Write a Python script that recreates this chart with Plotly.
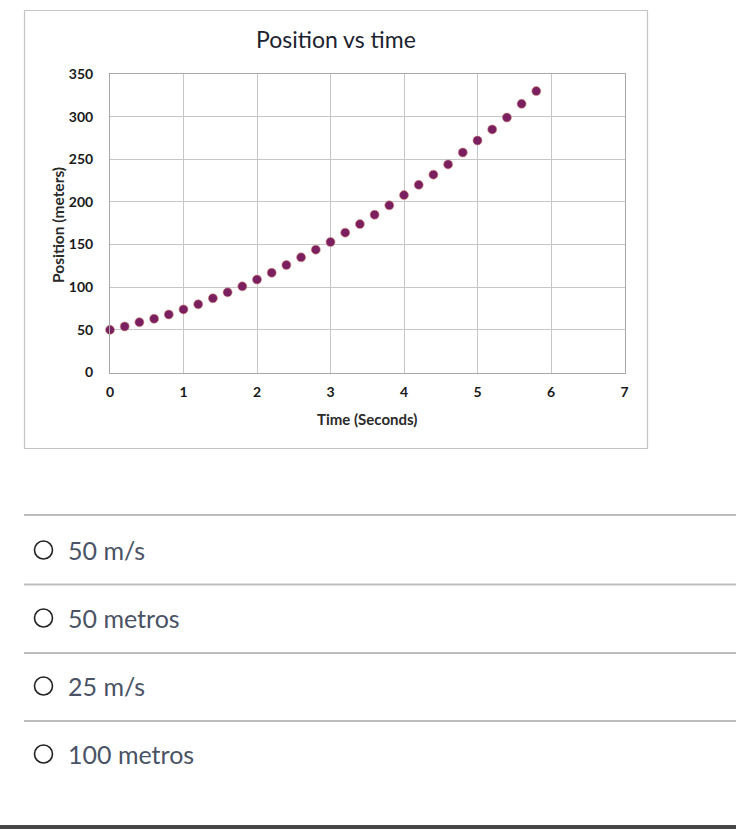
import plotly.graph_objects as go

# Data
time_s = [0.0, 0.2, 0.4, 0.6, 0.8, 1.0, 1.2, 1.4, 1.6, 1.8,
          2.0, 2.2, 2.4, 2.6, 2.8, 3.0, 3.2, 3.4, 3.6, 3.8,
          4.0, 4.2, 4.4, 4.6, 4.8, 5.0, 5.2, 5.4, 5.6, 5.8]
position_m = [50, 54, 59, 63, 68, 74, 80, 87, 94, 101,
              109, 117, 126, 135, 144, 153, 164, 174, 185, 196,
              208, 220, 232, 244, 258, 272, 285, 299, 315, 330]
x_ticks = [0, 1, 2, 3, 4, 5, 6, 7]
y_ticks = [0, 50, 100, 150, 200, 250, 300, 350]
options = ["50 m/s", "50 metros", "25 m/s", "100 metros"]

W, H = 736, 834


def px(x):
    return x / W


def py(y):
    return (H - y) / H


fig = go.Figure()
fig.add_trace(go.Scatter(
    x=time_s, y=position_m, mode="markers",
    marker=dict(size=9, color="#7a1f5f", line=dict(color="#d08a7a", width=0.6)),
    showlegend=False, hoverinfo="skip", cliponaxis=False,
))

grid_c = "#c6c6c6"
fig.update_layout(
    template="none",
    width=W, height=H, autosize=False,
    margin=dict(l=0, r=0, t=0, b=0, pad=0, autoexpand=False),
    paper_bgcolor="white", plot_bgcolor="white",
    xaxis=dict(
        domain=[px(110), px(624.5)], range=[0, 7], tickvals=x_ticks,
        automargin=False,
        showgrid=True, gridcolor=grid_c, gridwidth=1,
        showline=True, linecolor="#a8a8a8", linewidth=1, mirror=True,
        zeroline=False, ticks="", ticklabelstandoff=7,
        tickfont=dict(family="Lato", size=14, color="#1a1a1a", weight="bold"),
    ),
    yaxis=dict(
        domain=[py(372.5), py(74)], range=[0, 350], tickvals=y_ticks,
        automargin=False,
        showgrid=True, gridcolor=grid_c, gridwidth=1,
        showline=True, linecolor="#a8a8a8", linewidth=1, mirror=True,
        zeroline=False, ticks="", ticklabelstandoff=13,
        tickfont=dict(family="Lato", size=14, color="#1a1a1a", weight="bold"),
    ),
)

shapes = []
# chart frame
shapes.append(dict(type="rect", xref="paper", yref="paper",
                   x0=px(24.5), x1=px(647.5), y0=py(448.5), y1=py(10.5),
                   line=dict(color="#c4c4c4", width=1.2), layer="below"))
# separators between options
for yy in [515, 584.5, 653, 721]:
    shapes.append(dict(type="line", xref="paper", yref="paper",
                       x0=px(24), x1=1, y0=py(yy), y1=py(yy),
                       line=dict(color="#bdbdbd", width=2)))
# bottom dark rule
shapes.append(dict(type="line", xref="paper", yref="paper",
                   x0=0, x1=1, y0=py(827), y1=py(827),
                   line=dict(color="#474747", width=4)))

annotations = [
    dict(text="Position vs time", xref="paper", yref="paper",
         x=px(335.5), y=py(39), xanchor="center", yanchor="middle",
         showarrow=False, font=dict(family="Lato", size=23, color="#1c2330")),
    dict(text="Time (Seconds)", xref="paper", yref="paper",
         x=px(366.5), y=py(419), xanchor="center", yanchor="middle",
         showarrow=False, font=dict(family="Lato", size=15, color="#2a2a2a", weight="bold")),
    dict(text="Position (meters)", xref="paper", yref="paper",
         x=px(58), y=py(225), xanchor="center", yanchor="middle", textangle=-90,
         showarrow=False, font=dict(family="Lato", size=15.5, color="#2a2a2a", weight="bold")),
]

option_y = [550, 618, 686, 754]
for label, yy in zip(options, option_y):
    r = 9
    shapes.append(dict(type="circle", xref="paper", yref="paper",
                       x0=px(43.5 - r), x1=px(43.5 + r), y0=py(yy + r), y1=py(yy - r),
                       line=dict(color="#222222", width=1.6)))
    annotations.append(dict(text=label, xref="paper", yref="paper",
                            x=px(66), y=py(yy), xanchor="left", yanchor="middle",
                            showarrow=False,
                            font=dict(family="Lato", size=25, color="#4a5366")))

fig.update_layout(shapes=shapes, annotations=annotations)
fig.write_html("out.html")
